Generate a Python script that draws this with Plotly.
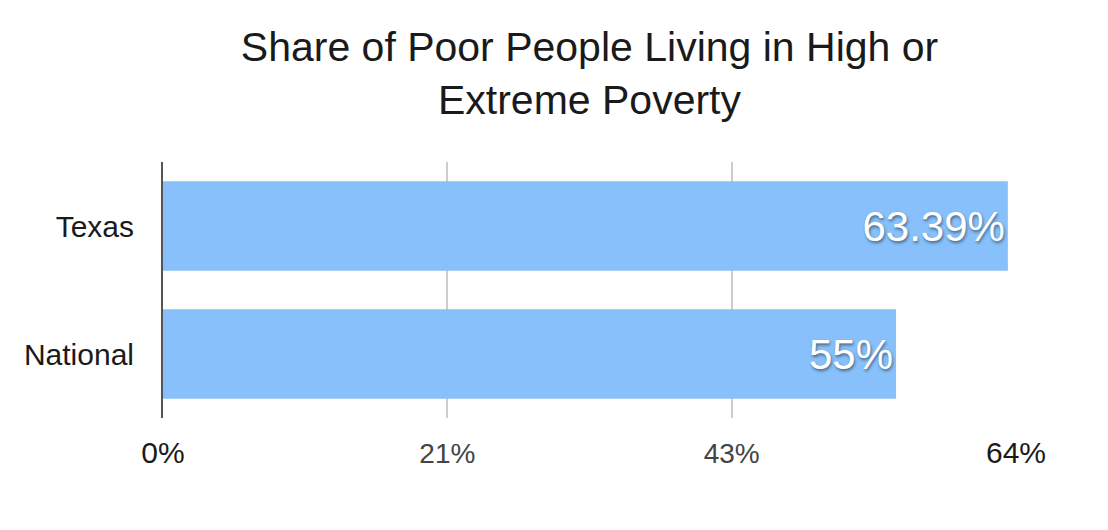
import plotly.graph_objects as go

categories = ["Texas", "National"]
values = [63.39, 55]
bar_labels = ["63.39%", "55%"]
tick_vals = [0, 64/3, 128/3, 64]
tick_labels = ["0%", "21%", "43%", "64%"]

FONT = "Liberation Sans, Helvetica Neue, Arial, sans-serif"

ticktext = []
for i, t in enumerate(tick_labels):
    if i in (0, len(tick_labels) - 1):
        ticktext.append(f'<span style="font-size:30px;fill:#1a1a1a">{t}</span>')
    else:
        ticktext.append(f'<span style="font-size:28px;fill:#444444">{t}</span>')

fig = go.Figure(go.Bar(
    y=categories,
    x=values,
    orientation="h",
    marker=dict(color="#87C0FA", line=dict(width=0)),
    text=bar_labels,
    textposition="inside",
    insidetextanchor="end",
    textfont=dict(family=FONT, size=42, color="white",
                  shadow="1px 2px 3px rgba(0,0,0,0.45)"),
    cliponaxis=False,
))

fig.update_layout(
    width=1108, height=530,
    margin=dict(l=163, r=92, t=162, b=112),
    paper_bgcolor="white", plot_bgcolor="white",
    bargap=0.3,
    showlegend=False,
    font=dict(family=FONT, color="#1a1a1a"),
    title=dict(
        text="Share of Poor People Living in High or<br>Extreme Poverty",
        x=0.5, xref="paper", xanchor="center",
        y=0.885, yanchor="top",
        font=dict(family=FONT, size=41, color="#1a1a1a"),
    ),
    xaxis=dict(
        range=[0, 64],
        tickvals=tick_vals,
        ticktext=ticktext,
        showgrid=True, gridcolor="#cccccc", gridwidth=2,
        zeroline=False,
        showline=False,
        ticks="",
        ticklabelstandoff=14,
        tickfont=dict(family=FONT, size=30),
        fixedrange=True,
    ),
    yaxis=dict(
        categoryorder="array",
        categoryarray=categories[::-1],
        showline=True, linecolor="#555555", linewidth=2,
        ticks="",
        ticklabelstandoff=21,
        tickfont=dict(family=FONT, size=30, color="#1a1a1a"),
        showgrid=False,
        fixedrange=True,
    ),
)

fig.write_html("out.html")
